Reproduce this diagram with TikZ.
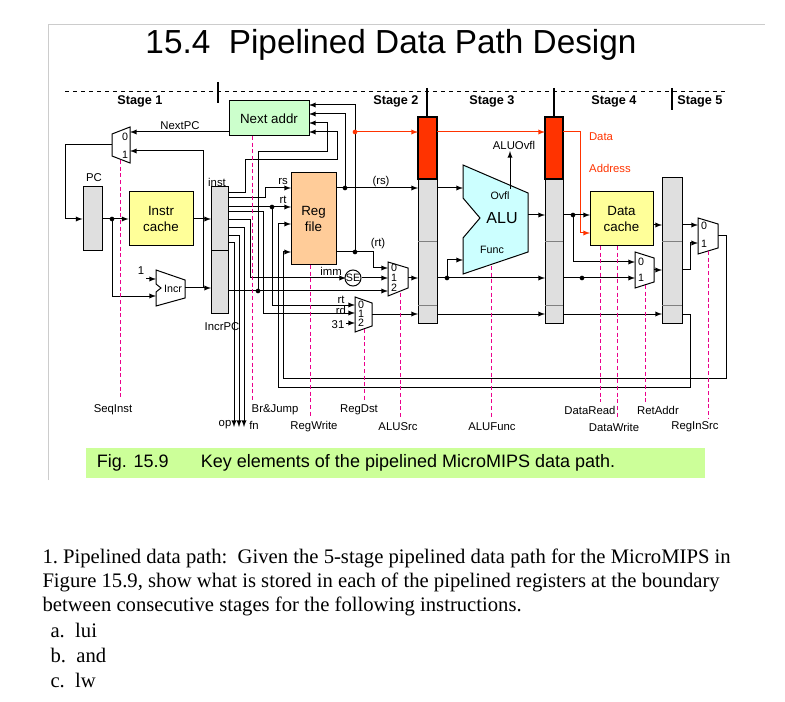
\documentclass[tikz,border=0pt]{standalone}
\usepackage{fontspec}
\setmainfont{Liberation Sans}
\newfontfamily\serifface{Liberation Serif}
\usetikzlibrary{calc}
\definecolor{nagreen}{HTML}{CCFFCC}
\definecolor{cacheyel}{HTML}{FFFF99}
\definecolor{rforange}{HTML}{FFCC99}
\definecolor{alucyan}{HTML}{CCFFFF}
\definecolor{pipered}{HTML}{FF3300}
\definecolor{capgreen}{HTML}{CCFF99}
\begin{document}
\begin{tikzpicture}[x=0.75pt,y=-0.75pt,line width=0.75pt]
    % `reg' is used for the pipeline registers, `box' for the main blocks.
    % `ctrl' is used for the dashed control signals.
    \tikzstyle{reg} = [draw,fill=gray!25,inner sep=0pt]
    \tikzstyle{box} = [draw,inner sep=0pt,align=center,font=\fontsize{10}{12}\selectfont]
    \tikzstyle{mux} = [draw,fill=white]
    \tikzstyle{arr} = [-latex]
    \tikzstyle{ctrl} = [magenta,dashed,dash pattern=on 3pt off 2pt]
    \tikzstyle{lbl} = [inner sep=1pt,font=\fontsize{8.5}{10}\selectfont]
    \tikzstyle{sm} = [inner sep=0pt,font=\fontsize{8}{9}\selectfont]
    \tikzstyle{dot} = [circle,fill,inner sep=0pt,minimum size=3.5pt]
    \tikzstyle{stage} = [font=\bfseries\fontsize{9.5}{10}\selectfont]
    \useasboundingbox (0,0) rectangle (785,702);
    \draw[gray!40] (48,480) -- (48,25) -- (765,25);
    \node[font=\fontsize{25}{29}\selectfont] (title) at (391,45) {15.4\ \ Pipelined Data Path Design};
    %
    \draw[dashed] (65,92) -- (725,92);
    \draw[line width=1.5pt] (218,82) -- (218,103) (427,88) -- (427,117) (554,88) -- (554,117) (672,88) -- (672,110);
    \node[stage] (s1) at (140,101) {Stage 1};
    \node[stage] (s2) at (396,101) {Stage 2};
    \node[stage] (s3) at (492,101) {Stage 3};
    \node[stage] (s4) at (614,101) {Stage 4};
    \node[stage] (s5) at (700,101) {Stage 5};
    %
    % Blocks and pipeline registers.
    \node[box,fill=nagreen,minimum width=60pt,minimum height=26.25pt] (nextaddr) at (269,118.5) {Next addr};
    \node[box,fill=cacheyel,minimum width=48pt,minimum height=40.5pt] (icache) at (161,219) {Instr\\cache};
    \node[box,fill=rforange,minimum width=33.75pt,minimum height=69pt] (regfile) at (313.5,219) {Reg\\file};
    \node[box,fill=cacheyel,minimum width=47.25pt,minimum height=40.5pt] (dcache) at (621.5,219) {Data\\cache};
    \node[reg,minimum width=14.25pt,minimum height=48pt] (pc) at (92.5,219) {};
    \node[reg,minimum width=12.75pt,minimum height=94.5pt] (ifid) at (219.5,250) {};
    \node[reg,minimum width=14.25pt,minimum height=154.5pt] (idex) at (427.5,220) {};
    \node[reg,minimum width=13.5pt,minimum height=154.5pt] (exmem) at (554,220) {};
    \node[reg,minimum width=15pt,minimum height=108.75pt] (memwb) at (672,250.5) {};
    \draw (211,251) -- (228,251);
    \draw[gray] (418,242) -- (437,242) (418,305) -- (437,305) (545,242) -- (563,242) (545,305) -- (563,305)
      (662,242) -- (682,242) (662,305) -- (682,305);
    \draw[fill=pipered,line width=1.5pt] (418,117) rectangle (437,179) (545,117) rectangle (563,179);
    \node[lbl] at (94,178) {PC};
    \node[lbl] at (217,182) {inst};
    \node[lbl] at (222,327) {IncrPC};
    %
    % Stage 1.
    \draw[mux] (112,134) -- (130,127) -- (130,163) -- (112,156) -- cycle;
    \node[sm] at (125,137) {0};
    \node[sm] at (125,155) {1};
    \draw[arr] (nextaddr.west |- 0,132) -- (130,132);
    \node[lbl] at (180,126) {NextPC};
    \draw[arr] (203,288) -- (203,151) -- (130,151);
    \draw[arr] (112,145) -- (65,145) -- (65,219) -- (pc.west);
    \draw[arr] (pc.east) -- (icache.west);
    \node[dot] at (112,219) {};
    \draw[arr] (112,219) -- (112,296) -- (156,296);
    \draw[fill=white] (156,270) -- (185,280) -- (185,298) -- (156,306) -- (156,292) -- (161,288) -- (156,284) -- cycle;
    \node[sm] at (173,289) {Incr};
    \node[lbl] at (141,271) {1};
    \draw[arr] (146,279) -- (156,279);
    \draw[arr] (185,288) -- (211,288);
    \draw[arr] (icache.east) -- (211,219);
    %
    % Stage 2.
    \draw[arr] (228,193) -- (245,193) -- (245,160) -- (337,160) -- (337,132) -- (309,132);
    \draw[arr] (228,198) -- (265,198) -- (265,188) -- (291,188);
    \node[lbl] at (283,182) {rs};
    \draw[arr] (228,207) -- (291,207);
    \node[lbl] at (283,200) {rt};
    \node[dot] at (272,207) {};
    \draw[arr] (272,207) -- (272,305) -- (355,305);
    \draw[arr] (228,212) -- (263,212) -- (263,313) -- (355,313);
    \node[lbl] at (341,300) {rt};
    \node[lbl] at (341,310) {rd};
    \node[lbl] at (338,325) {31};
    \draw[arr] (346,323) -- (355,323);
    \draw[arr] (228,220) -- (250,220) -- (250,278) -- (346,278);
    \draw[arr] (228,228) -- (244,228) -- (244,427);
    \draw[arr] (228,236) -- (239,236) -- (239,427);
    \draw[arr] (228,243) -- (234,243) -- (234,427);
    \node[lbl] at (225,425) {op};
    \node[lbl] at (254,425) {fn};
    \draw[arr] (228,291) -- (388,291);
    \node[dot] at (258,291) {};
    \draw[arr] (258,291) -- (258,152) -- (327,152) -- (327,123) -- (309,123);
    \draw[arr] (regfile.east |- 0,188) -- (418,188);
    \node[dot] at (345,188) {};
    \draw[arr] (345,188) -- (345,114) -- (309,114);
    \node[lbl] at (381,182) {(rs)};
    \draw[arr] (regfile.east |- 0,252) -- (373,252) -- (373,268) -- (388,268);
    \node[dot] at (355,252) {};
    \draw[arr] (355,252) -- (355,105) -- (309,105);
    \node[lbl] at (378,244) {(rt)};
    \node[draw,circle,fill=white,inner sep=0pt,minimum size=10.5pt,sm] (se) at (353,278) {SE};
    \node[lbl] at (331,271) {imm};
    \draw[arr] (se.east) -- (388,278);
    \draw[mux] (388,262) -- (408,268) -- (408,288) -- (388,296) -- cycle;
    \node[sm] at (394,268) {0};
    \node[sm] at (394,278) {1};
    \node[sm] at (394,288) {2};
    \draw[arr] (408,278) -- (418,278);
    \draw[mux] (355,297) -- (372,303) -- (372,326) -- (355,332) -- cycle;
    \node[sm] at (361,305) {0};
    \node[sm] at (361,314) {1};
    \node[sm] at (361,323) {2};
    \draw[arr] (372,314) -- (418,314);
    \draw[arr] (718,236) -- (726,236) -- (726,378) -- (283,378) -- (283,252) -- (291,252);
    \draw[arr] (682,314) -- (690,314) -- (690,387) -- (278,387) -- (278,224) -- (291,224);
    \draw[pipered,arr] (355,132) -- (418,132);
    \node[dot,pipered] at (355,132) {};
    %
    % Stage 3.
    \draw[fill=alucyan] (463,165) -- (528,193) -- (528,252) -- (463,274) -- (463,238) -- (480,218) -- (463,198) -- cycle;
    \node[sm] at (500,196) {Ovfl};
    \node[font=\fontsize{12}{14}\selectfont] (alu) at (502,218) {ALU};
    \node[sm] at (492,250) {Func};
    \draw[arr] (510,189) -- (510,151);
    \node[lbl] at (514,145) {ALUOvfl};
    \draw[arr] (437,188) -- (463,188);
    \draw[arr] (437,278) -- (545,278);
    \node[dot] at (447,278) {};
    \draw[arr] (447,278) -- (447,260) -- (463,260);
    \draw[arr] (437,314) -- (545,314);
    \draw[arr] (528,215) -- (545,215);
    \draw[pipered,arr] (437,132) -- (545,132);
    %
    % Stage 4 and 5.
    \draw[pipered,arr] (563,132) -- (580,132) -- (580,233) -- (590,233);
    \node[lbl,pipered] at (601,137) {Data};
    \node[lbl,pipered] at (610,168) {Address};
    \draw[arr] (563,215) -- (590,215);
    \node[dot] at (573,215) {};
    \draw[arr] (573,215) -- (573,262) -- (635,262);
    \draw[arr] (563,278) -- (635,278);
    \node[dot] at (582,278) {};
    \draw[arr] (563,314) -- (662,314);
    \draw[mux] (635,252) -- (654,258) -- (654,282) -- (635,288) -- cycle;
    \node[sm] at (641,262) {0};
    \node[sm] at (641,278) {1};
    \draw[arr] (654,270) -- (662,270);
    \draw[arr] (dcache.east |- 0,225) -- (662,225);
    \draw[arr] (682,225) -- (698,225);
    \draw[arr] (682,270) -- (690,270) -- (690,243) -- (698,243);
    \draw[mux] (698,218) -- (718,224) -- (718,248) -- (698,254) -- cycle;
    \node[sm] at (704,226) {0};
    \node[sm] at (704,244) {1};
    %
    % Control signals.
    \draw[ctrl] (120,160) -- (120,398);  \node[lbl] at (113,410) {SeqInst};
    \draw[ctrl] (252,136) -- (252,402);  \node[lbl] at (275,410) {Br\&Jump};
    \draw[ctrl] (310,265) -- (310,418);  \node[lbl] at (314,427) {RegWrite};
    \draw[ctrl] (364,329) -- (364,402);  \node[lbl] at (359,410) {RegDst};
    \draw[ctrl] (400,293) -- (400,418);  \node[lbl] at (398,427) {ALUSrc};
    \draw[ctrl] (491,266) -- (491,418);  \node[lbl] at (492,427) {ALUFunc};
    \draw[ctrl] (600,246) -- (600,402);  \node[lbl] at (590,410) {DataRead};
    \draw[ctrl] (617,246) -- (617,418);  \node[lbl] at (614,427) {DataWrite};
    \draw[ctrl] (645,285) -- (645,402);  \node[lbl] at (658,410) {RetAddr};
    \draw[ctrl] (708,251) -- (708,418);  \node[lbl] at (695,427) {RegInSrc};
    %
    \node[fill=capgreen,minimum width=464.25pt,minimum height=22.5pt] (caption) at (395.5,463) {};
    \node[anchor=west,font=\fontsize{13.5}{16}\selectfont] at (92,463) {Fig. 15.9};
    \node[anchor=west,font=\fontsize{13.5}{16}\selectfont] at (196,463) {Key elements of the pipelined MicroMIPS data path.};
    %
    \begin{scope}[every node/.style={anchor=base west,inner sep=0pt,font=\serifface\fontsize{15.5}{18}\selectfont}]
      \node at (42,563) {1.\ Pipelined data path:\ \ Given the 5-stage pipelined data path for the MicroMIPS in};
      \node at (42,587) {Figure 15.9, show what is stored in each of the pipelined registers at the boundary};
      \node at (42,611) {between consecutive stages for the following instructions.};
      \node at (50,637) {a.\ \ lui};
      \node at (50,662) {b.\ \ and};
      \node at (50,687) {c.\ \ lw};
    \end{scope}
\end{tikzpicture}
\end{document}
